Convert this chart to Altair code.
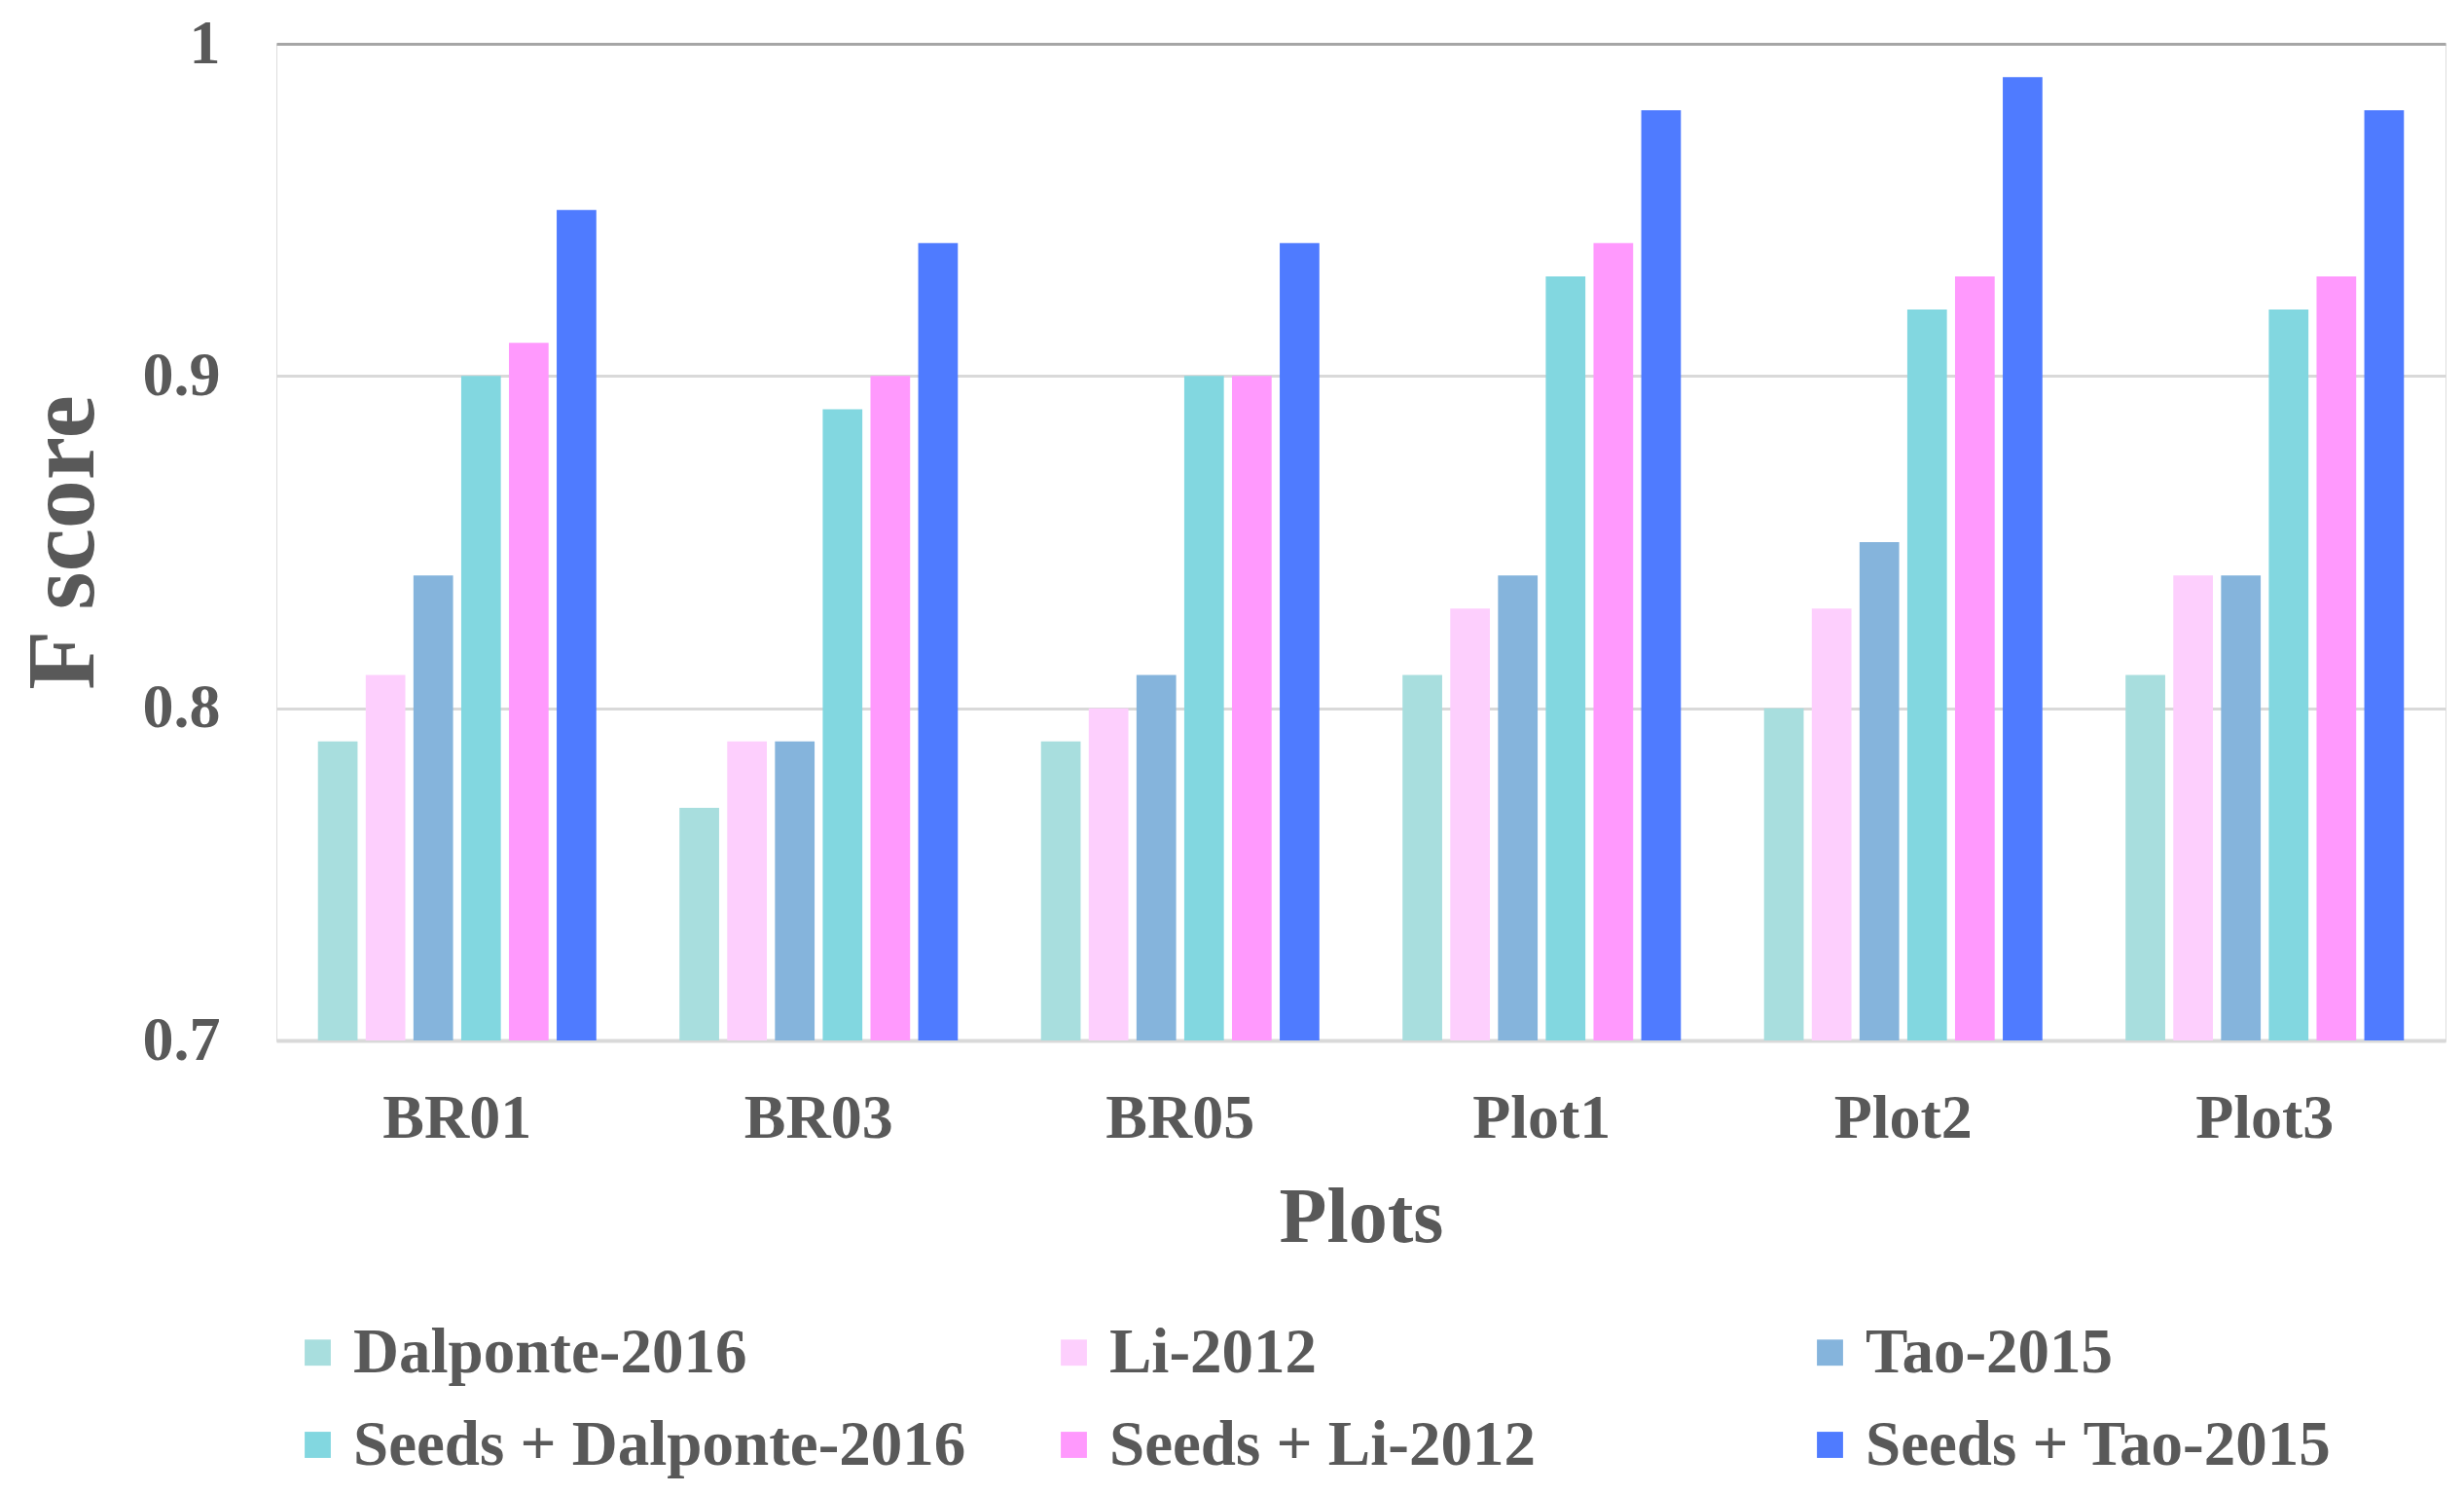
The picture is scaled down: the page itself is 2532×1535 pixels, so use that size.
import altair as alt
import pandas as pd

plots = ["BR01", "BR03", "BR05", "Plot1", "Plot2", "Plot3"]
methods = ["Dalponte-2016", "Li-2012", "Tao-2015",
           "Seeds + Dalponte-2016", "Seeds + Li-2012", "Seeds + Tao-2015"]
colors = ["#A8DEDE", "#FDCFFD", "#85B4DC", "#82D7E0", "#FF99FD", "#4F7BFF"]

dalponte = [0.79, 0.77, 0.79, 0.81, 0.80, 0.81]
li = [0.81, 0.79, 0.80, 0.83, 0.83, 0.84]
tao = [0.84, 0.79, 0.81, 0.84, 0.85, 0.84]
seeds_dalponte = [0.90, 0.89, 0.90, 0.93, 0.92, 0.92]
seeds_li = [0.91, 0.90, 0.90, 0.94, 0.93, 0.93]
seeds_tao = [0.95, 0.94, 0.94, 0.98, 0.99, 0.98]

series = [dalponte, li, tao, seeds_dalponte, seeds_li, seeds_tao]
rows = []
for m, vals in zip(methods, series):
    for p, v in zip(plots, vals):
        rows.append({"Plot": p, "Method": m, "F": v})
df = pd.DataFrame(rows)

# legend fills column by column: reorder so it reads row by row
legend_order = [methods[i] for i in (0, 3, 1, 4, 2, 5)]
legend_colors = [colors[i] for i in (0, 3, 1, 4, 2, 5)]

FONT = "Liberation Serif"
TXT = "#595959"
W, H = 2229, 1024

bars = alt.Chart(df).mark_bar().encode(
    x=alt.X("Plot:N", sort=plots,
            scale=alt.Scale(paddingInner=0.23, paddingOuter=0.115),
            axis=alt.Axis(title="Plots", labelAngle=0, tickSize=0, ticks=False,
                          labelPadding=48, labelFontSize=64, labelFont=FONT,
                          labelFontWeight="bold", labelColor=TXT,
                          titleFontSize=80, titleFont=FONT, titleFontWeight="bold",
                          titleColor=TXT, titleY=182, titleBaseline="middle",
                          domainColor="#D9D9D9", domainWidth=4)),
    xOffset=alt.XOffset("Method:N", sort=methods,
                        scale=alt.Scale(paddingInner=0.17, paddingOuter=0)),
    y=alt.Y("F:Q", scale=alt.Scale(domain=[0.7, 1.0], zero=False, nice=False),
            axis=alt.Axis(title="F score", values=[0.7, 0.8, 0.9, 1.0],
                          format=".1~f", tickSize=0, ticks=False, labelPadding=58,
                          labelFontSize=64, labelFont=FONT, labelFontWeight="bold",
                          labelColor=TXT, titleFontSize=100, titleFont=FONT,
                          titleFontWeight="bold", titleColor=TXT,
                          titleX=-219, titleY=H / 2, titleAlign="center",
                          titleBaseline="middle", titleAngle=-90,
                          gridColor={"condition": {"test": "datum.value >= 0.99",
                                                   "value": "#A6A6A6"},
                                     "value": "#D9D9D9"},
                          gridWidth=3, domain=False)),
    y2=alt.datum(0.7),
    color=alt.Color("Method:N",
                    scale=alt.Scale(domain=legend_order, range=legend_colors),
                    legend=alt.Legend(title=None, orient="none", legendX=10,
                                      legendY=1312, columns=3, gridAlign="all",
                                      columnPadding=78, rowPadding=29,
                                      symbolType="square", symbolSize=720,
                                      symbolStrokeWidth=0, labelFontSize=65,
                                      labelFont=FONT, labelFontWeight="bold",
                                      labelColor=TXT, labelOffset=4,
                                      labelLimit=1000, padding=0)),
)

chart = bars.properties(
    width=W, height=H,
    autosize=alt.AutoSizeParams(type="none"),
    padding={"left": 276, "top": 37, "right": 11, "bottom": 450},
).configure_view(stroke="#A6A6A6", strokeWidth=3).configure(background="white")

chart.save("out.html", embed_options={"renderer": "svg", "actions": False})
